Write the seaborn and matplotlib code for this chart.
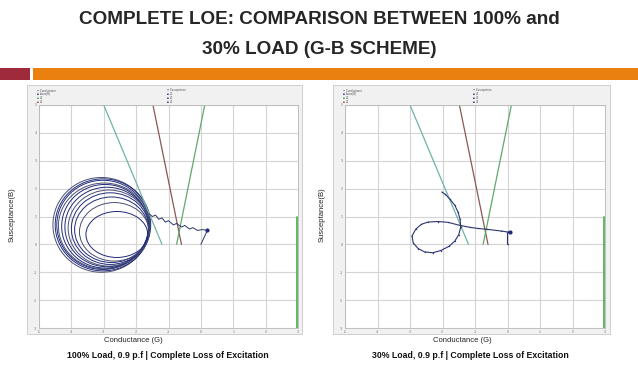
import matplotlib
matplotlib.use("Agg")
import matplotlib.pyplot as plt
import seaborn as sns
from matplotlib.patches import Ellipse, Rectangle

# grid of the G-B plane (data units)
x_ticks = [-5, -4, -3, -2, -1, 0, 1, 2, 3]
y_ticks = [-3, -2, -1, 0, 1, 2, 3, 4, 5]

# relay characteristic lines (same in both plots)
teal_x = [-3.0, -1.2]
teal_y = [5.0, 0.0]
brown_x = [-1.48, -0.6]
brown_y = [5.0, 0.0]
green_x = [0.12, -0.75]
green_y = [5.0, 0.0]
vert_x = [2.98, 2.98]
vert_y = [1.0, -3.0]

# 100% load: start + noisy drift towards the loops
drift_x = [0.0, 0.2, 0.05, -0.1, -0.25, -0.35, -0.5, -0.6, -0.75, -0.85,
           -1.0, -1.1, -1.2, -1.3, -1.4, -1.5, -1.6]
drift_y = [0.0, 0.5, 0.53, 0.5, 0.6, 0.55, 0.68, 0.62, 0.75, 0.7,
           0.85, 0.8, 0.95, 0.9, 1.05, 1.0, 1.1]
# 100% load: loops of the locus (left, right, top, bottom)
loop_left = [-4.57, -4.5, -4.45, -4.4, -4.3, -4.2, -4.1, -4.0, -3.9, -3.75, -3.55]
loop_right = [-1.57, -1.55, -1.6, -1.58, -1.62, -1.6, -1.58, -1.6, -1.62, -1.6, -1.64]
loop_top = [2.4, 2.35, 2.3, 2.2, 2.15, 2.05, 1.95, 1.85, 1.7, 1.5, 1.18]
loop_bottom = [-1.0, -0.95, -0.9, -0.88, -0.85, -0.8, -0.78, -0.72, -0.65, -0.6, -0.47]

# 30% load locus
lo_x = [0.0, 0.0, 0.08, -0.2, -0.63, -0.9, -1.15, -1.46, -1.83, -2.14, -2.45, -2.65, -2.82,
        -2.94, -2.9, -2.75, -2.55, -2.3, -2.05, -1.8, -1.62, -1.5, -1.44, -1.46, -1.52,
        -1.62, -1.77, -1.92, -2.02]
lo_y = [0.0, 0.43, 0.43, 0.48, 0.54, 0.57, 0.61, 0.68, 0.79, 0.82, 0.8, 0.72, 0.55,
        0.3, 0.05, -0.15, -0.27, -0.3, -0.22, -0.07, 0.12, 0.35, 0.62, 0.9, 1.15,
        1.4, 1.62, 1.8, 1.88]

captions = ["100% Load, 0.9 p.f | Complete Loss of Excitation",
            "30% Load, 0.9 p.f | Complete Loss of Excitation"]

NAVY = "#1f2b7a"

sns.set_theme(style="whitegrid")
plt.rcParams['font.family'] = ['Liberation Sans', 'DejaVu Sans']

W, H = 638, 365
fig = plt.figure(figsize=(W / 100, H / 100), dpi=100)
fig.patch.set_facecolor("white")


def px(x0, y0, x1, y1):
    return [x0 / W, 1 - y1 / H, (x1 - x0) / W, (y1 - y0) / H]


# title and header bars
fig.text(0.5, 1 - 20 / H, "COMPLETE LOE: COMPARISON BETWEEN 100% and",
         ha="center", va="center", fontsize=13.6, fontweight="bold", color="#262626")
fig.text(0.5, 1 - 49 / H, "30% LOAD (G-B SCHEME)",
         ha="center", va="center", fontsize=13.6, fontweight="bold", color="#262626")
fig.patches.append(Rectangle((0, 1 - 80 / H), 30 / W, 12 / H, transform=fig.transFigure,
                             fc="#9e2a3c", ec="none", zorder=-10))
fig.patches.append(Rectangle((33 / W, 1 - 80 / H), (W - 33) / W, 12 / H, transform=fig.transFigure,
                             fc="#ea8010", ec="none", zorder=-10))

panels = [(27, 302, 39, 298, 12, 133, 168), (333, 610, 345, 605, 322, 462, 470)]

for i, (p0, p1, a0, a1, ylx, xlx, capx) in enumerate(panels):
    # grey frame of the scope window
    fig.patches.append(Rectangle((p0 / W, 1 - 334 / H), (p1 - p0) / W, (334 - 85) / H,
                                 transform=fig.transFigure, fc="#f1f1f1", ec="#c8c8c8", lw=0.6,
                                 zorder=-10))
    # tiny legend strip
    for gx, head, cols, names in [
            (p0 + 10, "Conductance", ["#1f2b7a", "#3a9a4a", "#b03030"], ["Locus(B)", "Z1", "Z2"]),
            (p0 + 140, "Susceptance", ["#1f2b7a", "#1f2b7a", "#1f2b7a"], ["Z1", "Z2", "Z3"])]:
        fig.text(gx / W, 1 - 90 / H, "\u25bd " + head, fontsize=2, color="#555555", va="center")
        for j in range(3):
            fig.text(gx / W, 1 - (94 + 4 * j) / H, "\u25a0", fontsize=2.2, color=cols[j], va="center")
            fig.text((gx + 3) / W, 1 - (94 + 4 * j) / H, names[j], fontsize=2, color="#555555", va="center")

    ax = fig.add_axes(px(a0, 105, a1, 328))
    ax.set_facecolor("white")
    ax.set_xlim(-5, 3)
    ax.set_ylim(-3, 5)
    ax.set_xticks(x_ticks)
    ax.set_yticks(y_ticks)
    ax.set_xticklabels([str(v) for v in x_ticks])
    ax.set_yticklabels([str(v) for v in y_ticks])
    ax.tick_params(labelsize=2.5, colors="#777777", length=0, pad=1.5)
    ax.grid(True, color="#d4d4d4", lw=0.8)
    for s in ax.spines.values():
        s.set_color("#b8b8b8")
        s.set_linewidth(0.6)

    sns.lineplot(x=teal_x, y=teal_y, ax=ax, color="#6fb3a8", lw=0.9, sort=False, estimator=None)
    sns.lineplot(x=brown_x, y=brown_y, ax=ax, color="#8d5656", lw=0.9, sort=False, estimator=None)
    sns.lineplot(x=green_x, y=green_y, ax=ax, color="#5eaa6a", lw=0.9, sort=False, estimator=None)
    sns.lineplot(x=vert_x, y=vert_y, ax=ax, color="#3fb04a", lw=1.2, sort=False, estimator=None)

    if i == 0:
        for k in range(len(loop_left)):
            cx = (loop_left[k] + loop_right[k]) / 2
            cy = (loop_top[k] + loop_bottom[k]) / 2
            col = NAVY if k % 3 else "#4b4f72"
            ax.add_patch(Ellipse((cx, cy), loop_right[k] - loop_left[k], loop_top[k] - loop_bottom[k],
                                 fill=False, ec=col, lw=0.7))
        sns.lineplot(x=drift_x, y=drift_y, ax=ax, color="#2c3470", lw=0.7, sort=False, estimator=None)
        ax.plot(drift_x[1], drift_y[1], "o", color=NAVY, ms=2)
    else:
        sns.lineplot(x=lo_x, y=lo_y, ax=ax, color="#2c3470", lw=0.8, sort=False, estimator=None,
                     marker="o", markersize=1.0, markeredgewidth=0)
        ax.plot(lo_x[2], lo_y[2], "o", color=NAVY, ms=2)
    ax.set_xlabel("")
    ax.set_ylabel("")

    fig.text(ylx / W, 1 - 215 / H, "Susceptance(B)", rotation=90, ha="center", va="center",
             fontsize=5.5, color="#222222")
    fig.text(xlx / W, 1 - 341 / H, "Conductance (G)", ha="center", va="center",
             fontsize=5.5, color="#222222")
    fig.text(capx / W, 1 - 355 / H, captions[i], ha="center", va="center",
             fontsize=6.3, fontweight="bold", color="#111111")

fig.savefig("out.png", dpi=100)
